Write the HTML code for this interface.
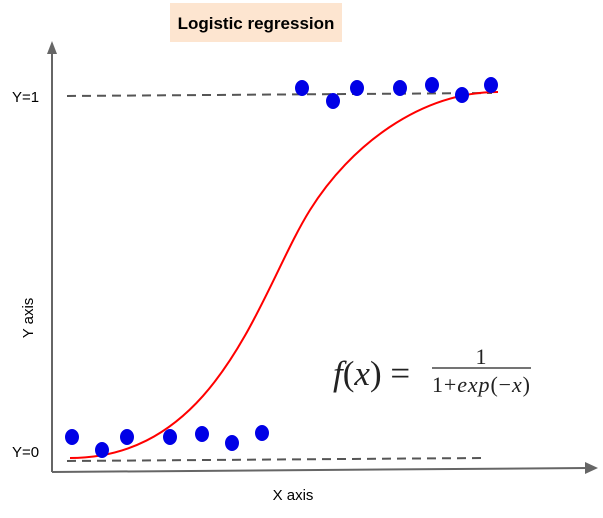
<!DOCTYPE html>
<html><head><meta charset="utf-8"><style>
html,body{margin:0;padding:0;background:#fff;}
</style></head><body>
<svg width="603" height="513" viewBox="0 0 603 513" xmlns="http://www.w3.org/2000/svg">
<rect x="170" y="3" width="172" height="39" fill="#fde5d0"/>
<text x="256" y="29" text-anchor="middle" font-family="Liberation Sans, sans-serif" font-weight="bold" font-size="17" fill="#000">Logistic regression</text>
<line x1="52" y1="472" x2="52" y2="50" stroke="#666" stroke-width="2"/>
<polygon points="47,54 52,41 57,54" fill="#666"/>
<line x1="52" y1="472" x2="588" y2="468" stroke="#666" stroke-width="2"/>
<polygon points="585,462 598,468 585,474" fill="#666"/>
<line x1="67" y1="96" x2="492" y2="93" stroke="#555" stroke-width="2" stroke-dasharray="9,6"/>
<line x1="67" y1="461" x2="484" y2="458" stroke="#555" stroke-width="2" stroke-dasharray="9,6"/>
<path d="M70,458 C220,458 260,290 310,210 C350,146 420,92 498,92" fill="none" stroke="#f00" stroke-width="2"/>
<g fill="#0000e6">
<ellipse cx="302" cy="88" rx="7" ry="8"/>
<ellipse cx="333" cy="101" rx="7" ry="8"/>
<ellipse cx="357" cy="88" rx="7" ry="8"/>
<ellipse cx="400" cy="88" rx="7" ry="8"/>
<ellipse cx="432" cy="85" rx="7" ry="8"/>
<ellipse cx="462" cy="95" rx="7" ry="8"/>
<ellipse cx="491" cy="85" rx="7" ry="8"/>
<ellipse cx="72" cy="437" rx="7" ry="8"/>
<ellipse cx="102" cy="450" rx="7" ry="8"/>
<ellipse cx="127" cy="437" rx="7" ry="8"/>
<ellipse cx="170" cy="437" rx="7" ry="8"/>
<ellipse cx="202" cy="434" rx="7" ry="8"/>
<ellipse cx="232" cy="443" rx="7" ry="8"/>
<ellipse cx="262" cy="433" rx="7" ry="8"/>
</g>
<g font-family="Liberation Sans, sans-serif" font-size="15" fill="#000">
<text x="12" y="102">Y=1</text>
<text x="12" y="457">Y=0</text>
<text x="293" y="500" text-anchor="middle">X axis</text>
<text transform="translate(33,318) rotate(-90)" text-anchor="middle">Y axis</text>
</g>
<g font-family="Liberation Serif, serif" fill="#222">
<text x="333" y="385" font-size="35"><tspan font-style="italic">f</tspan>(<tspan font-style="italic">x</tspan>) =</text>
<text x="481" y="364" font-size="22" text-anchor="middle">1</text>
<line x1="432" y1="368" x2="531" y2="368" stroke="#222" stroke-width="1.3"/>
<text x="481" y="392" font-size="22" text-anchor="middle" textLength="98">1+<tspan font-style="italic">exp</tspan>(−<tspan font-style="italic">x</tspan>)</text>
</g>
</svg>
</body></html>
